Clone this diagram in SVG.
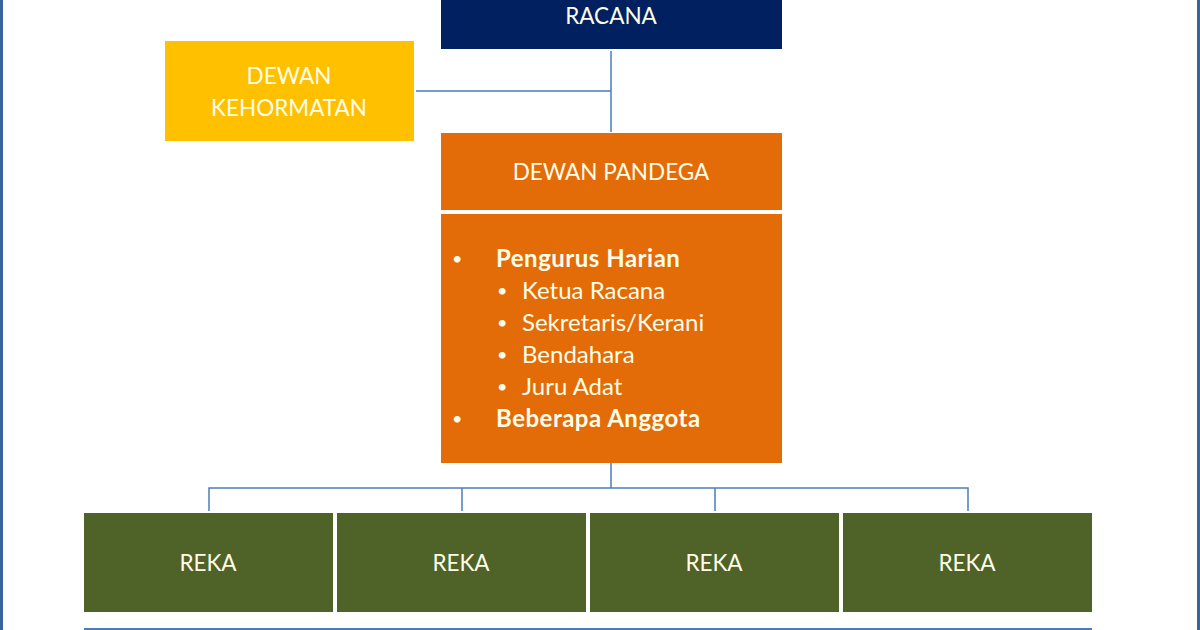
<svg xmlns="http://www.w3.org/2000/svg" width="1200" height="630" viewBox="0 0 1200 630">
<style>
.t{font-family:Lato,"Open Sans","Liberation Sans",sans-serif;font-size:22.5px;fill:#FFFDE8;}
.l{font-size:24px;}
.d{font-size:18px;}
.c{text-anchor:middle;}
.b{font-weight:bold;letter-spacing:0.5px;}
.ln{stroke:#4A7EBB;stroke-width:1.5;fill:none;}
</style>
<rect width="1200" height="630" fill="#FFFFFF"/>
<line x1="1.5" y1="0" x2="1.5" y2="630" stroke="#3A649A" stroke-width="3"/>
<line x1="1198.5" y1="0" x2="1198.5" y2="630" stroke="#3A649A" stroke-width="3"/>
<line x1="84" y1="629" x2="1092" y2="629" stroke="#4A7EBB" stroke-width="2"/>
<g id="connectors">
<path class="ln" d="M611 51 V132 M416 91 H611"/>
<path class="ln" d="M611 455 V488 M209 511 V488 H968 V511 M462 488 V511 M715 488 V511"/>
</g>
<g id="racana">
<rect x="441" y="0" width="341" height="49" fill="#002060"/>
<text class="t c" x="611" y="24">RACANA</text>
</g>
<g id="dewan-kehormatan">
<rect x="165" y="41" width="249" height="100" fill="#FFC000"/>
<text class="t c" x="289" y="84">DEWAN</text>
<text class="t c" x="289" y="116">KEHORMATAN</text>
</g>
<g id="dewan-pandega">
<rect x="441" y="133" width="341" height="77" fill="#E36C09"/>
<text class="t c" x="611" y="180">DEWAN PANDEGA</text>
</g>
<g id="pengurus">
<rect x="441" y="214" width="341" height="249" fill="#E36C09"/>
<text class="t d" x="452" y="265">•</text>
<text class="t l b" x="496" y="267">Pengurus Harian</text>
<text class="t d" x="497" y="297">•</text>
<text class="t l" x="522" y="299">Ketua Racana</text>
<text class="t d" x="497" y="329">•</text>
<text class="t l" x="522" y="331">Sekretaris/Kerani</text>
<text class="t d" x="497" y="361">•</text>
<text class="t l" x="522" y="363">Bendahara</text>
<text class="t d" x="497" y="393">•</text>
<text class="t l" x="522" y="395">Juru Adat</text>
<text class="t d" x="452" y="425">•</text>
<text class="t l b" x="496" y="427">Beberapa Anggota</text>
</g>
<g id="reka1">
<rect x="84" y="513" width="249" height="99" fill="#4F6228"/>
<text class="t c" x="208" y="571">REKA</text>
</g>
<g id="reka2">
<rect x="337" y="513" width="249" height="99" fill="#4F6228"/>
<text class="t c" x="461" y="571">REKA</text>
</g>
<g id="reka3">
<rect x="590" y="513" width="249" height="99" fill="#4F6228"/>
<text class="t c" x="714" y="571">REKA</text>
</g>
<g id="reka4">
<rect x="843" y="513" width="249" height="99" fill="#4F6228"/>
<text class="t c" x="967" y="571">REKA</text>
</g>
</svg>
